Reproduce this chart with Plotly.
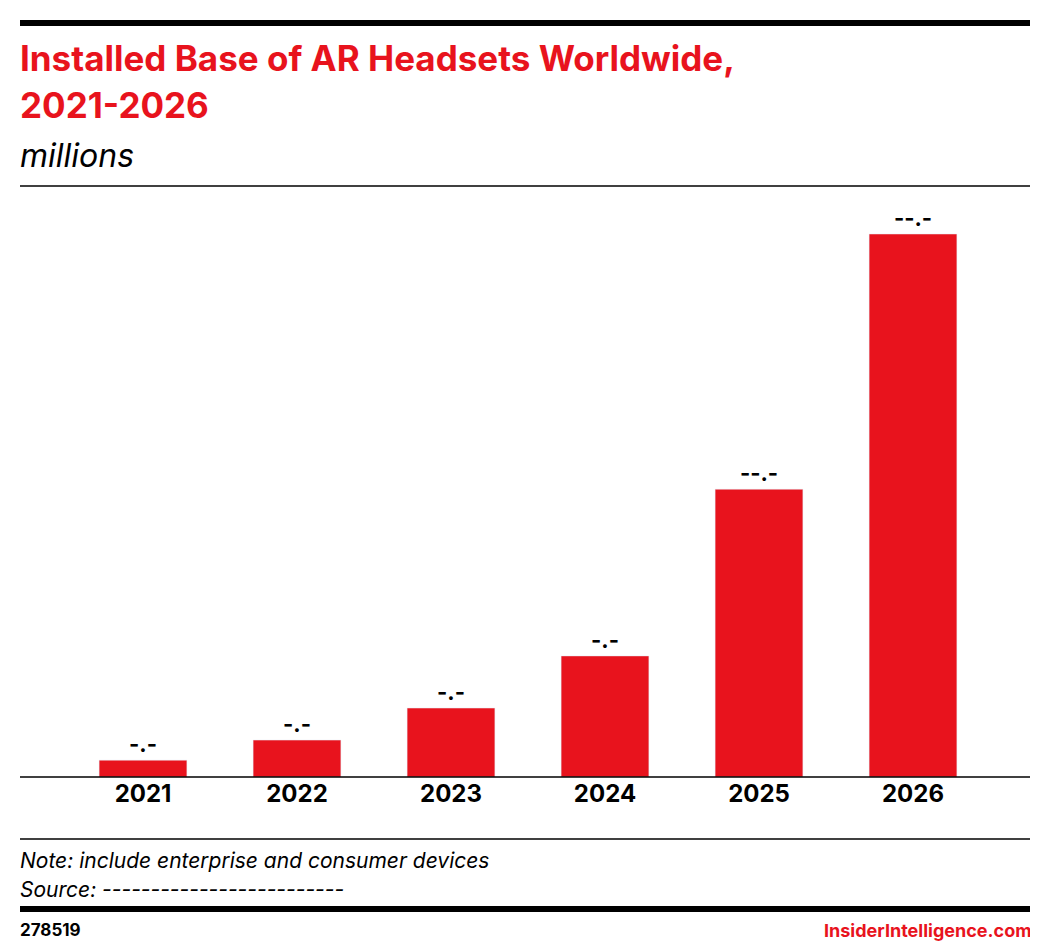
import plotly.graph_objects as go

years = ["2021", "2022", "2023", "2024", "2025", "2026"]
values = [0.31, 0.68, 1.27, 2.23, 5.3, 10.0]
labels = ["-.-", "-.-", "-.-", "-.-", "--.-", "--.-"]

W, H = 1038, 947
L, R, T, B = 58, 982, 190, 769
RED = "#E8131D"

def px(x): return (x - L) / (R - L)
def py(y): return (B - y) / (B - T)

fig = go.Figure(go.Bar(
    x=years, y=values, marker_color=RED, width=0.57,
    text=labels, textposition="outside", cliponaxis=False,
    textfont=dict(family="Inter", size=22, color="black", weight="bold"),
))

shapes = []
def hline(y, w):
    shapes.append(dict(type="line", xref="paper", yref="paper", x0=px(12), x1=px(1026),
                       y0=py(y), y1=py(y), line=dict(color="black", width=w)))
hline(15, 6)
hline(178, 1.5)
hline(831, 1.5)
hline(901, 6)
shapes.append(dict(type="line", xref="paper", yref="paper", x0=px(12), x1=px(1026),
                   y0=0, y1=0, line=dict(color="black", width=1.5)))

ann = []
def txt(x, y, s, size, color="black", bold=False, italic=False, anchor="left"):
    ann.append(dict(xref="paper", yref="paper", x=px(x), y=py(y), text=s, showarrow=False,
                    xanchor=anchor, yanchor="middle",
                    font=dict(family="Inter", size=size, color=color,
                              weight="bold" if bold else "normal",
                              style="italic" if italic else "normal")))
txt(10, 50, "Installed Base of AR Headsets Worldwide,", 35, RED, bold=True)
txt(10, 97, "2021-2026", 35, RED, bold=True)
txt(10, 148, "millions", 32, italic=True)
txt(10, 852, "Note: include enterprise and consumer devices", 21, italic=True)
txt(10, 881, "Source: -------------------------", 21, italic=True)
txt(10, 922, "278519", 17, bold=True)
txt(1026, 922, "InsiderIntelligence.com", 18, RED, bold=True, anchor="right")

fig.update_layout(
    width=W, height=H, margin=dict(l=L, r=W - R, t=T, b=H - B),
    plot_bgcolor="white", paper_bgcolor="white", showlegend=False,
    shapes=shapes, annotations=ann,
    xaxis=dict(showline=False, ticks="", tickfont=dict(family="Inter", size=24, color="black", weight="bold")),
    yaxis=dict(range=[0, (B - T) / 54.3], visible=False),
)
fig.write_html("out.html")
